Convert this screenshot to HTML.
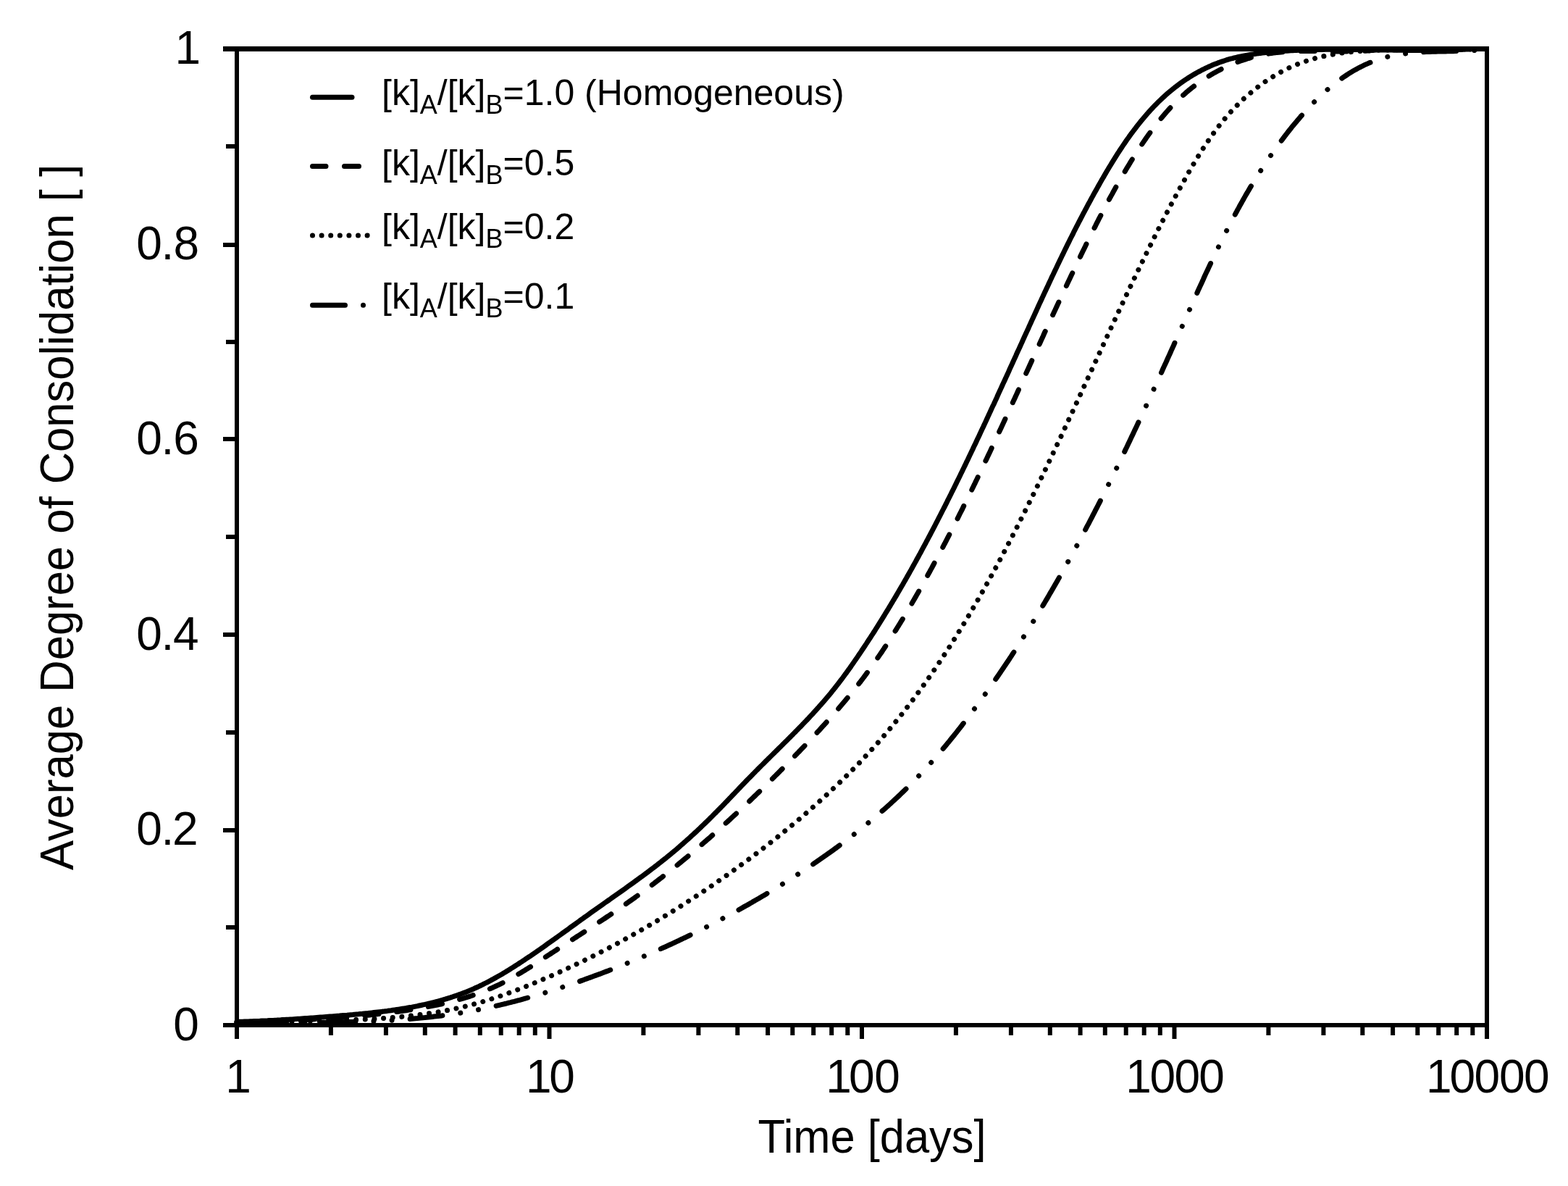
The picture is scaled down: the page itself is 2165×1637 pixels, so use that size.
<!DOCTYPE html>
<html><head><meta charset="utf-8"><title>Average Degree of Consolidation</title><style>html,body{margin:0;padding:0;background:#fff;overflow:hidden;}svg{display:block;}</style></head><body>
<svg width="2165" height="1637" viewBox="0 0 2165 1637">
<rect x="0" y="0" width="2165" height="1637" fill="#fff"/>
<path d="M326.8 1410.4L329.5 1410.3L332.2 1410.3L334.8 1410.2L337.5 1410.1L340.2 1410.0L342.8 1409.9L345.5 1409.8L348.1 1409.7L350.8 1409.6L353.4 1409.5L356.1 1409.4L358.7 1409.3L361.4 1409.1L364.0 1409.0L366.6 1408.9L369.3 1408.8L371.9 1408.6L374.5 1408.5L377.1 1408.4L379.8 1408.2L382.4 1408.1L385.0 1407.9L387.6 1407.8L390.2 1407.6L392.8 1407.5L395.5 1407.3L398.1 1407.2L400.7 1407.0L403.3 1406.9L405.9 1406.7L408.5 1406.5L411.1 1406.3L413.7 1406.2L416.4 1406.0L419.0 1405.8L421.6 1405.6L424.2 1405.5L426.8 1405.3L429.4 1405.1L432.0 1404.9L434.6 1404.7L437.2 1404.5L439.8 1404.3L442.5 1404.1L445.1 1403.9L447.7 1403.7L450.3 1403.5L452.9 1403.3L455.5 1403.1L458.2 1402.9L460.8 1402.7L463.4 1402.5L466.0 1402.3L468.7 1402.1L471.3 1401.8L473.9 1401.6L476.6 1401.4L479.2 1401.2L481.8 1400.9L484.5 1400.7L487.1 1400.5L489.7 1400.2L492.4 1400.0L495.0 1399.8L497.7 1399.5L500.3 1399.3L502.9 1399.0L505.6 1398.7L508.2 1398.5L510.9 1398.2L513.5 1397.9L516.1 1397.6L518.8 1397.3L521.4 1397.0L524.1 1396.7L526.7 1396.4L529.3 1396.1L532.0 1395.7L534.6 1395.4L537.2 1395.0L539.8 1394.7L542.5 1394.3L545.1 1393.9L547.7 1393.5L550.3 1393.1L553.0 1392.7L555.6 1392.3L558.2 1391.9L560.8 1391.5L563.4 1391.0L566.0 1390.5L568.6 1390.1L571.2 1389.6L573.8 1389.1L576.4 1388.6L578.9 1388.0L581.5 1387.5L584.1 1386.9L586.7 1386.4L589.2 1385.8L591.8 1385.2L594.4 1384.6L596.9 1384.0L599.4 1383.3L602.0 1382.7L604.5 1382.0L607.0 1381.3L609.6 1380.6L612.1 1379.9L614.6 1379.2L617.1 1378.4L619.6 1377.6L622.1 1376.9L624.6 1376.0L627.1 1375.2L629.5 1374.4L632.0 1373.5L634.4 1372.6L636.9 1371.7L639.3 1370.8L641.8 1369.9L644.2 1368.9L646.6 1367.9L649.0 1366.9L651.4 1365.9L653.8 1364.9L656.2 1363.8L658.6 1362.7L661.0 1361.6L663.3 1360.5L665.7 1359.4L668.0 1358.2L670.3 1357.0L672.7 1355.8L675.0 1354.6L677.3 1353.4L679.6 1352.1L681.9 1350.9L684.2 1349.6L686.5 1348.3L688.8 1347.0L691.1 1345.7L693.3 1344.4L695.6 1343.0L697.9 1341.7L700.1 1340.3L702.4 1338.9L704.6 1337.5L706.8 1336.1L709.1 1334.7L711.3 1333.3L713.5 1331.9L715.7 1330.5L717.9 1329.0L720.1 1327.6L722.3 1326.1L724.5 1324.7L726.7 1323.2L728.9 1321.7L731.1 1320.3L733.3 1318.8L735.4 1317.3L737.6 1315.8L739.8 1314.3L741.9 1312.8L744.1 1311.3L746.3 1309.8L748.4 1308.3L750.6 1306.8L752.7 1305.3L754.9 1303.7L757.0 1302.2L759.2 1300.7L761.3 1299.2L763.4 1297.6L765.6 1296.1L767.7 1294.6L769.9 1293.0L772.0 1291.5L774.1 1290.0L776.3 1288.4L778.4 1286.9L780.5 1285.4L782.7 1283.8L784.8 1282.3L786.9 1280.7L789.0 1279.2L791.2 1277.6L793.3 1276.1L795.4 1274.6L797.6 1273.0L799.7 1271.5L801.8 1269.9L804.0 1268.4L806.1 1266.9L808.2 1265.3L810.4 1263.8L812.5 1262.3L814.7 1260.7L816.8 1259.2L818.9 1257.7L821.1 1256.2L823.2 1254.6L825.4 1253.1L827.5 1251.6L829.7 1250.1L831.8 1248.6L834.0 1247.0L836.1 1245.5L838.3 1244.0L840.5 1242.5L842.6 1241.0L844.8 1239.4L846.9 1237.9L849.1 1236.4L851.2 1234.9L853.4 1233.4L855.5 1231.9L857.7 1230.3L859.8 1228.8L862.0 1227.3L864.1 1225.8L866.2 1224.2L868.4 1222.7L870.5 1221.2L872.7 1219.6L874.8 1218.1L876.9 1216.5L879.1 1215.0L881.2 1213.4L883.3 1211.9L885.4 1210.3L887.6 1208.8L889.7 1207.2L891.8 1205.6L893.9 1204.1L896.0 1202.5L898.1 1200.9L900.2 1199.3L902.3 1197.7L904.4 1196.1L906.5 1194.5L908.5 1192.9L910.6 1191.3L912.7 1189.7L914.7 1188.0L916.8 1186.4L918.9 1184.8L920.9 1183.1L922.9 1181.5L925.0 1179.8L927.0 1178.1L929.0 1176.4L931.0 1174.8L933.1 1173.1L935.1 1171.4L937.1 1169.7L939.0 1167.9L941.0 1166.2L943.0 1164.5L945.0 1162.7L946.9 1161.0L948.9 1159.2L950.9 1157.5L952.8 1155.7L954.7 1153.9L956.7 1152.2L958.6 1150.4L960.5 1148.6L962.5 1146.8L964.4 1145.0L966.3 1143.2L968.2 1141.4L970.1 1139.5L972.0 1137.7L973.9 1135.9L975.8 1134.1L977.7 1132.2L979.5 1130.4L981.4 1128.5L983.3 1126.7L985.1 1124.8L987.0 1122.9L988.9 1121.1L990.7 1119.2L992.6 1117.3L994.4 1115.5L996.2 1113.6L998.1 1111.7L999.9 1109.8L1001.7 1107.9L1003.6 1106.0L1005.4 1104.1L1007.2 1102.2L1009.0 1100.3L1010.8 1098.4L1012.6 1096.5L1014.5 1094.6L1016.3 1092.7L1018.1 1090.8L1019.9 1088.9L1021.7 1087.0L1023.5 1085.1L1025.3 1083.2L1027.2 1081.3L1029.0 1079.4L1030.8 1077.5L1032.6 1075.6L1034.5 1073.7L1036.3 1071.9L1038.2 1070.0L1040.0 1068.1L1041.9 1066.2L1043.7 1064.4L1045.6 1062.5L1047.4 1060.6L1049.3 1058.8L1051.2 1056.9L1053.0 1055.1L1054.9 1053.2L1056.8 1051.3L1058.6 1049.5L1060.5 1047.6L1062.4 1045.8L1064.3 1043.9L1066.1 1042.1L1068.0 1040.2L1069.9 1038.4L1071.8 1036.5L1073.6 1034.7L1075.5 1032.8L1077.4 1031.0L1079.3 1029.1L1081.1 1027.3L1083.0 1025.4L1084.9 1023.5L1086.8 1021.7L1088.6 1019.8L1090.5 1018.0L1092.3 1016.1L1094.2 1014.2L1096.0 1012.4L1097.9 1010.5L1099.7 1008.6L1101.6 1006.7L1103.4 1004.8L1105.3 1003.0L1107.1 1001.1L1108.9 999.2L1110.7 997.3L1112.6 995.4L1114.4 993.5L1116.2 991.6L1118.0 989.6L1119.8 987.7L1121.6 985.8L1123.3 983.9L1125.1 981.9L1126.9 980.0L1128.6 978.0L1130.4 976.1L1132.1 974.1L1133.9 972.1L1135.6 970.2L1137.3 968.2L1139.0 966.2L1140.7 964.2L1142.4 962.2L1144.1 960.2L1145.8 958.2L1147.5 956.2L1149.1 954.1L1150.8 952.1L1152.4 950.0L1154.0 948.0L1155.6 945.9L1157.3 943.8L1158.9 941.7L1160.4 939.7L1162.0 937.6L1163.6 935.5L1165.2 933.3L1166.7 931.2L1168.3 929.1L1169.8 927.0L1171.3 924.9L1172.9 922.7L1174.4 920.6L1175.9 918.4L1177.4 916.3L1178.9 914.1L1180.4 911.9L1181.9 909.8L1183.4 907.6L1184.9 905.4L1186.3 903.3L1187.8 901.1L1189.3 898.9L1190.7 896.7L1192.2 894.5L1193.7 892.3L1195.1 890.1L1196.6 887.9L1198.0 885.7L1199.4 883.5L1200.9 881.3L1202.3 879.1L1203.7 876.9L1205.2 874.7L1206.6 872.5L1208.0 870.3L1209.4 868.0L1210.8 865.8L1212.2 863.6L1213.6 861.4L1215.0 859.1L1216.4 856.9L1217.8 854.7L1219.2 852.4L1220.6 850.2L1221.9 847.9L1223.3 845.7L1224.7 843.4L1226.1 841.2L1227.4 838.9L1228.8 836.7L1230.1 834.4L1231.5 832.2L1232.8 829.9L1234.2 827.7L1235.5 825.4L1236.9 823.1L1238.2 820.9L1239.5 818.6L1240.9 816.3L1242.2 814.0L1243.5 811.8L1244.8 809.5L1246.2 807.2L1247.5 804.9L1248.8 802.6L1250.1 800.4L1251.4 798.1L1252.7 795.8L1254.0 793.5L1255.3 791.2L1256.6 788.9L1257.9 786.6L1259.2 784.3L1260.4 782.0L1261.7 779.7L1263.0 777.4L1264.3 775.1L1265.5 772.8L1266.8 770.5L1268.1 768.2L1269.3 765.9L1270.6 763.6L1271.8 761.3L1273.1 758.9L1274.3 756.6L1275.6 754.3L1276.8 752.0L1278.1 749.7L1279.3 747.3L1280.6 745.0L1281.8 742.7L1283.0 740.4L1284.3 738.0L1285.5 735.7L1286.7 733.4L1287.9 731.1L1289.2 728.7L1290.4 726.4L1291.6 724.0L1292.8 721.7L1294.0 719.4L1295.2 717.0L1296.4 714.7L1297.6 712.4L1298.8 710.0L1300.0 707.7L1301.2 705.3L1302.4 703.0L1303.6 700.6L1304.8 698.3L1306.0 695.9L1307.2 693.6L1308.3 691.2L1309.5 688.9L1310.7 686.5L1311.9 684.2L1313.1 681.8L1314.2 679.4L1315.4 677.1L1316.6 674.7L1317.7 672.4L1318.9 670.0L1320.1 667.6L1321.2 665.3L1322.4 662.9L1323.6 660.5L1324.7 658.2L1325.9 655.8L1327.0 653.4L1328.2 651.1L1329.3 648.7L1330.5 646.3L1331.6 644.0L1332.8 641.6L1333.9 639.2L1335.0 636.8L1336.2 634.5L1337.3 632.1L1338.4 629.7L1339.6 627.3L1340.7 625.0L1341.8 622.6L1343.0 620.2L1344.1 617.8L1345.2 615.4L1346.4 613.1L1347.5 610.7L1348.6 608.3L1349.7 605.9L1350.9 603.5L1352.0 601.2L1353.1 598.8L1354.2 596.4L1355.3 594.0L1356.4 591.6L1357.6 589.2L1358.7 586.8L1359.8 584.5L1360.9 582.1L1362.0 579.7L1363.1 577.3L1364.2 574.9L1365.3 572.5L1366.4 570.1L1367.5 567.7L1368.6 565.3L1369.7 562.9L1370.8 560.6L1372.0 558.2L1373.1 555.8L1374.2 553.4L1375.3 551.0L1376.4 548.6L1377.4 546.2L1378.5 543.8L1379.6 541.4L1380.7 539.0L1381.8 536.6L1382.9 534.2L1384.0 531.8L1385.1 529.4L1386.2 527.1L1387.3 524.7L1388.4 522.3L1389.5 519.9L1390.6 517.5L1391.7 515.1L1392.8 512.7L1393.8 510.3L1394.9 507.9L1396.0 505.5L1397.1 503.1L1398.2 500.7L1399.3 498.3L1400.4 495.9L1401.5 493.5L1402.6 491.1L1403.6 488.7L1404.7 486.3L1405.8 484.0L1406.9 481.6L1408.0 479.2L1409.1 476.8L1410.2 474.4L1411.3 472.0L1412.3 469.6L1413.4 467.2L1414.5 464.8L1415.6 462.4L1416.7 460.0L1417.8 457.6L1418.9 455.2L1420.0 452.9L1421.0 450.5L1422.1 448.1L1423.2 445.7L1424.3 443.3L1425.4 440.9L1426.5 438.5L1427.6 436.1L1428.7 433.7L1429.8 431.3L1430.9 429.0L1431.9 426.6L1433.0 424.2L1434.1 421.8L1435.2 419.4L1436.3 417.0L1437.4 414.7L1438.5 412.3L1439.6 409.9L1440.7 407.5L1441.8 405.1L1442.9 402.7L1444.0 400.4L1445.1 398.0L1446.3 395.6L1447.4 393.2L1448.5 390.8L1449.6 388.5L1450.7 386.1L1451.8 383.7L1452.9 381.3L1454.1 379.0L1455.2 376.6L1456.3 374.2L1457.4 371.9L1458.6 369.5L1459.7 367.1L1460.8 364.8L1462.0 362.4L1463.1 360.0L1464.2 357.7L1465.4 355.3L1466.5 352.9L1467.7 350.6L1468.8 348.2L1470.0 345.8L1471.1 343.5L1472.3 341.1L1473.4 338.8L1474.6 336.4L1475.8 334.1L1476.9 331.7L1478.1 329.3L1479.3 327.0L1480.5 324.6L1481.7 322.3L1482.8 319.9L1484.0 317.6L1485.2 315.2L1486.4 312.9L1487.6 310.6L1488.8 308.2L1490.0 305.9L1491.3 303.5L1492.5 301.2L1493.7 298.9L1494.9 296.5L1496.1 294.2L1497.4 291.9L1498.6 289.5L1499.9 287.2L1501.1 284.9L1502.3 282.5L1503.6 280.2L1504.9 277.9L1506.1 275.6L1507.4 273.2L1508.7 270.9L1509.9 268.6L1511.2 266.3L1512.5 264.0L1513.8 261.7L1515.1 259.4L1516.4 257.0L1517.7 254.7L1519.0 252.4L1520.3 250.1L1521.6 247.8L1523.0 245.5L1524.3 243.2L1525.6 240.9L1527.0 238.6L1528.3 236.3L1529.7 234.0L1531.0 231.8L1532.4 229.5L1533.8 227.2L1535.2 224.9L1536.6 222.7L1538.0 220.4L1539.4 218.2L1540.8 215.9L1542.2 213.7L1543.6 211.4L1545.1 209.2L1546.5 207.0L1548.0 204.8L1549.4 202.6L1550.9 200.4L1552.4 198.2L1553.9 196.0L1555.4 193.8L1556.9 191.6L1558.5 189.5L1560.0 187.3L1561.5 185.2L1563.1 183.1L1564.7 181.0L1566.3 178.9L1567.9 176.8L1569.5 174.7L1571.1 172.6L1572.7 170.6L1574.4 168.5L1576.0 166.5L1577.7 164.5L1579.4 162.5L1581.1 160.5L1582.8 158.5L1584.5 156.5L1586.2 154.6L1588.0 152.6L1589.8 150.7L1591.5 148.8L1593.3 146.9L1595.2 145.0L1597.0 143.2L1598.8 141.3L1600.7 139.5L1602.6 137.7L1604.5 135.9L1606.4 134.2L1608.3 132.4L1610.2 130.7L1612.2 128.9L1614.2 127.2L1616.2 125.6L1618.2 123.9L1620.2 122.3L1622.2 120.6L1624.3 119.1L1626.4 117.5L1628.5 115.9L1630.6 114.4L1632.7 112.9L1634.9 111.4L1637.1 109.9L1639.3 108.5L1641.5 107.0L1643.7 105.6L1646.0 104.3L1648.2 102.9L1650.5 101.6L1652.8 100.3L1655.1 99.0L1657.5 97.8L1659.8 96.5L1662.2 95.4L1664.6 94.2L1666.9 93.1L1669.3 92.0L1671.8 90.9L1674.2 89.8L1676.6 88.8L1679.1 87.9L1681.5 86.9L1684.0 86.0L1686.5 85.1L1689.0 84.3L1691.5 83.5L1694.0 82.7L1696.5 81.9L1699.0 81.2L1701.6 80.6L1704.1 79.9L1706.7 79.3L1709.2 78.7L1711.8 78.1L1714.4 77.6L1716.9 77.1L1719.5 76.6L1722.1 76.1L1724.7 75.7L1727.3 75.3L1729.9 74.9L1732.5 74.5L1735.1 74.1L1737.7 73.8L1740.3 73.4L1742.9 73.1L1745.6 72.8L1748.2 72.5L1750.8 72.3L1753.4 72.0L1756.1 71.8L1758.7 71.5L1761.3 71.3L1763.9 71.1L1766.6 70.9L1769.2 70.7L1771.8 70.5L1774.4 70.3L1777.1 70.2L1779.7 70.0L1782.3 69.8L1784.9 69.7L1787.6 69.6L1790.2 69.4L1792.8 69.3L1795.5 69.2L1798.1 69.1L1800.7 69.0L1803.4 68.9L1806.0 68.8L1808.6 68.7L1811.2 68.7L1813.9 68.6L1816.5 68.5L1819.1 68.5L1821.8 68.4L1824.4 68.4L1827.0 68.4L1829.7 68.3L1832.3 68.3L1834.9 68.3L1837.6 68.3L1840.2 68.2L1842.8 68.2L1845.5 68.2L1848.1 68.2L1850.7 68.2L1853.4 68.2L1856.0 68.3L1858.6 68.3L1861.3 68.3L1863.9 68.3L1866.6 68.3L1869.2 68.4L1871.8 68.4L1874.5 68.4L1877.1 68.4L1879.7 68.5L1882.4 68.5L1885.0 68.5L1887.6 68.6L1890.3 68.6L1892.9 68.7L1895.5 68.7L1898.2 68.8L1900.8 68.8L1903.4 68.8L1906.1 68.9L1908.7 68.9L1911.3 69.0L1914.0 69.0L1916.6 69.0L1919.3 69.1L1921.9 69.1L1924.5 69.2L1927.2 69.2L1929.8 69.2L1932.4 69.3L1935.1 69.3L1937.7 69.3L1940.3 69.4L1943.0 69.4L1945.6 69.4L1948.2 69.4L1950.9 69.5L1953.5 69.5L1956.1 69.5L1958.8 69.5L1961.4 69.5L1964.0 69.5L1966.7 69.5L1969.3 69.5L1971.9 69.5L1974.6 69.5L1977.2 69.4L1979.8 69.4L1982.4 69.4L1985.1 69.3L1987.7 69.3L1990.3 69.3L1993.0 69.2L1995.6 69.1L1998.2 69.1L2000.9 69.0L2003.5 68.9L2006.1 68.8L2008.7 68.8L2011.4 68.7L2014.0 68.6L2016.6 68.4L2019.2 68.3L2021.9 68.2L2024.5 68.1L2027.1 67.9L2029.7 67.8L2032.4 67.6L2035.0 67.5" fill="none" stroke="#000" stroke-width="7" stroke-linejoin="round" stroke-linecap="round"/>
<path d="M326.9 1411.2L329.6 1411.1L332.3 1411.0L334.9 1411.0L337.6 1410.9L340.2 1410.8L342.9 1410.7L345.5 1410.6L348.2 1410.5L350.8 1410.4L353.5 1410.3L356.1 1410.2L358.8 1410.1L361.4 1410.1L364.0 1410.0L366.7 1409.9L369.3 1409.8L371.9 1409.7L374.6 1409.6L377.2 1409.5L379.9 1409.4L382.5 1409.3L385.1 1409.2L387.7 1409.1L390.4 1409.0L393.0 1408.9L395.6 1408.7L398.3 1408.6L400.9 1408.5L403.5 1408.4L406.1 1408.3L408.8 1408.2L411.4 1408.0L414.0 1407.9L416.6 1407.8L419.2 1407.7L421.9 1407.5L424.5 1407.4L427.1 1407.2L429.7 1407.1L432.3 1407.0L434.9 1406.8L437.6 1406.7L440.2 1406.5L442.8 1406.4L445.4 1406.2L448.0 1406.0L450.6 1405.9L453.3 1405.7L455.9 1405.5L458.5 1405.3L461.1 1405.2L463.7 1405.0L466.3 1404.8L468.9 1404.6L471.5 1404.4L474.2 1404.2L476.8 1404.0L479.4 1403.8L482.0 1403.6L484.6 1403.4L487.2 1403.1L489.8 1402.9L492.4 1402.7L495.1 1402.4L497.7 1402.2L500.3 1401.9L502.9 1401.7L505.5 1401.4L508.1 1401.2L510.7 1400.9L513.4 1400.6L516.0 1400.4L518.6 1400.1L521.2 1399.8L523.8 1399.5L526.4 1399.2L529.1 1398.9L531.7 1398.6L534.3 1398.2L536.9 1397.9L539.5 1397.6L542.2 1397.3L544.8 1396.9L547.4 1396.6L550.0 1396.2L552.6 1395.8L555.3 1395.5L557.9 1395.1L560.5 1394.7L563.1 1394.3L565.8 1393.9L568.4 1393.5L571.0 1393.1L573.6 1392.7L576.3 1392.2L578.9 1391.8L581.5 1391.4L584.1 1390.9L586.7 1390.4L589.3 1389.9L591.9 1389.4L594.6 1388.9L597.2 1388.4L599.8 1387.9L602.4 1387.4L605.0 1386.8L607.5 1386.2L610.1 1385.7L612.7 1385.1L615.3 1384.5L617.9 1383.9L620.4 1383.2L623.0 1382.6L625.6 1381.9L628.1 1381.2L630.7 1380.6L633.2 1379.8L635.8 1379.1L638.3 1378.4L640.8 1377.6L643.3 1376.9L645.8 1376.1L648.3 1375.3L650.8 1374.5L653.3 1373.6L655.8 1372.8L658.3 1371.9L660.7 1371.0L663.2 1370.1L665.7 1369.2L668.1 1368.2L670.5 1367.3L673.0 1366.3L675.4 1365.3L677.8 1364.2L680.2 1363.2L682.5 1362.1L684.9 1361.0L687.3 1359.9L689.6 1358.8L692.0 1357.6L694.3 1356.5L696.6 1355.3L699.0 1354.0L701.3 1352.8L703.6 1351.6L705.9 1350.3L708.1 1349.0L710.4 1347.7L712.7 1346.4L715.0 1345.1L717.2 1343.8L719.5 1342.4L721.7 1341.1L724.0 1339.7L726.2 1338.3L728.4 1337.0L730.7 1335.6L732.9 1334.2L735.1 1332.8L737.3 1331.3L739.5 1329.9L741.8 1328.5L744.0 1327.1L746.2 1325.6L748.4 1324.2L750.6 1322.7L752.8 1321.3L755.0 1319.8L757.2 1318.4L759.4 1317.0L761.6 1315.5L763.8 1314.1L766.1 1312.6L768.3 1311.2L770.5 1309.7L772.7 1308.3L774.9 1306.9L777.1 1305.4L779.3 1304.0L781.5 1302.6L783.8 1301.1L786.0 1299.7L788.2 1298.3L790.4 1296.8L792.6 1295.4L794.8 1294.0L797.0 1292.5L799.2 1291.1L801.5 1289.7L803.7 1288.2L805.9 1286.8L808.1 1285.3L810.3 1283.9L812.5 1282.5L814.7 1281.0L816.9 1279.6L819.1 1278.1L821.3 1276.7L823.5 1275.2L825.7 1273.8L827.9 1272.3L830.1 1270.9L832.3 1269.4L834.5 1268.0L836.7 1266.5L838.9 1265.0L841.1 1263.6L843.3 1262.1L845.4 1260.6L847.6 1259.1L849.8 1257.7L852.0 1256.2L854.1 1254.7L856.3 1253.2L858.5 1251.7L860.6 1250.2L862.8 1248.7L864.9 1247.2L867.1 1245.7L869.2 1244.2L871.4 1242.6L873.5 1241.1L875.7 1239.6L877.8 1238.0L879.9 1236.5L882.1 1235.0L884.2 1233.4L886.3 1231.8L888.4 1230.3L890.5 1228.7L892.7 1227.2L894.8 1225.6L896.9 1224.0L899.0 1222.4L901.1 1220.8L903.2 1219.2L905.2 1217.6L907.3 1216.0L909.4 1214.4L911.5 1212.8L913.6 1211.2L915.6 1209.6L917.7 1208.0L919.8 1206.3L921.8 1204.7L923.9 1203.1L926.0 1201.4L928.0 1199.8L930.1 1198.2L932.1 1196.5L934.2 1194.8L936.2 1193.2L938.2 1191.5L940.3 1189.9L942.3 1188.2L944.3 1186.5L946.4 1184.8L948.4 1183.2L950.4 1181.5L952.4 1179.8L954.4 1178.1L956.4 1176.4L958.5 1174.7L960.5 1173.0L962.5 1171.3L964.5 1169.6L966.5 1167.8L968.5 1166.1L970.4 1164.4L972.4 1162.7L974.4 1161.0L976.4 1159.2L978.4 1157.5L980.4 1155.8L982.3 1154.0L984.3 1152.3L986.3 1150.5L988.2 1148.8L990.2 1147.0L992.2 1145.3L994.1 1143.5L996.1 1141.7L998.0 1140.0L1000.0 1138.2L1001.9 1136.4L1003.9 1134.7L1005.8 1132.9L1007.8 1131.1L1009.7 1129.3L1011.6 1127.5L1013.6 1125.7L1015.5 1124.0L1017.4 1122.2L1019.4 1120.4L1021.3 1118.6L1023.2 1116.8L1025.1 1115.0L1027.0 1113.2L1029.0 1111.3L1030.9 1109.5L1032.8 1107.7L1034.7 1105.9L1036.6 1104.1L1038.5 1102.3L1040.4 1100.4L1042.3 1098.6L1044.2 1096.8L1046.1 1094.9L1048.0 1093.1L1049.9 1091.3L1051.8 1089.4L1053.6 1087.6L1055.5 1085.7L1057.4 1083.9L1059.3 1082.1L1061.2 1080.2L1063.0 1078.3L1064.9 1076.5L1066.8 1074.6L1068.6 1072.8L1070.5 1070.9L1072.4 1069.0L1074.2 1067.2L1076.1 1065.3L1077.9 1063.4L1079.8 1061.6L1081.6 1059.7L1083.5 1057.8L1085.3 1055.9L1087.2 1054.0L1089.0 1052.2L1090.9 1050.3L1092.7 1048.4L1094.5 1046.5L1096.4 1044.6L1098.2 1042.7L1100.0 1040.8L1101.9 1038.9L1103.7 1037.0L1105.5 1035.1L1107.3 1033.2L1109.2 1031.3L1111.0 1029.4L1112.8 1027.5L1114.6 1025.6L1116.4 1023.7L1118.2 1021.8L1120.0 1019.8L1121.8 1017.9L1123.6 1016.0L1125.4 1014.1L1127.2 1012.1L1129.0 1010.2L1130.8 1008.3L1132.6 1006.3L1134.3 1004.4L1136.1 1002.4L1137.9 1000.5L1139.6 998.6L1141.4 996.6L1143.2 994.6L1144.9 992.7L1146.7 990.7L1148.4 988.7L1150.1 986.8L1151.9 984.8L1153.6 982.8L1155.3 980.8L1157.1 978.8L1158.8 976.8L1160.5 974.8L1162.2 972.8L1163.9 970.8L1165.6 968.8L1167.3 966.8L1168.9 964.8L1170.6 962.8L1172.3 960.7L1173.9 958.7L1175.6 956.7L1177.2 954.6L1178.9 952.6L1180.5 950.5L1182.1 948.5L1183.8 946.4L1185.4 944.3L1187.0 942.2L1188.6 940.2L1190.2 938.1L1191.8 936.0L1193.4 933.9L1194.9 931.8L1196.5 929.7L1198.0 927.5L1199.6 925.4L1201.1 923.3L1202.7 921.2L1204.2 919.0L1205.7 916.9L1207.2 914.7L1208.7 912.6L1210.2 910.4L1211.7 908.3L1213.2 906.1L1214.7 903.9L1216.2 901.7L1217.7 899.6L1219.1 897.4L1220.6 895.2L1222.0 893.0L1223.5 890.8L1224.9 888.6L1226.4 886.4L1227.8 884.2L1229.2 881.9L1230.6 879.7L1232.0 877.5L1233.4 875.3L1234.8 873.0L1236.2 870.8L1237.6 868.6L1239.0 866.3L1240.4 864.1L1241.8 861.8L1243.2 859.6L1244.5 857.3L1245.9 855.1L1247.3 852.8L1248.6 850.6L1250.0 848.3L1251.3 846.0L1252.7 843.8L1254.0 841.5L1255.3 839.2L1256.7 836.9L1258.0 834.7L1259.3 832.4L1260.6 830.1L1262.0 827.8L1263.3 825.5L1264.6 823.2L1265.9 820.9L1267.2 818.7L1268.5 816.4L1269.8 814.1L1271.1 811.8L1272.4 809.5L1273.7 807.2L1274.9 804.9L1276.2 802.6L1277.5 800.3L1278.8 798.0L1280.1 795.7L1281.3 793.3L1282.6 791.0L1283.9 788.7L1285.1 786.4L1286.4 784.1L1287.6 781.8L1288.9 779.5L1290.1 777.1L1291.4 774.8L1292.6 772.5L1293.9 770.2L1295.1 767.9L1296.4 765.5L1297.6 763.2L1298.8 760.9L1300.1 758.5L1301.3 756.2L1302.5 753.9L1303.7 751.5L1305.0 749.2L1306.2 746.9L1307.4 744.5L1308.6 742.2L1309.8 739.9L1311.0 737.5L1312.2 735.2L1313.4 732.8L1314.6 730.5L1315.8 728.1L1317.0 725.8L1318.2 723.4L1319.4 721.1L1320.6 718.7L1321.8 716.4L1323.0 714.0L1324.1 711.7L1325.3 709.3L1326.5 707.0L1327.7 704.6L1328.9 702.3L1330.0 699.9L1331.2 697.5L1332.4 695.2L1333.5 692.8L1334.7 690.5L1335.9 688.1L1337.0 685.7L1338.2 683.4L1339.3 681.0L1340.5 678.6L1341.7 676.3L1342.8 673.9L1344.0 671.5L1345.1 669.1L1346.3 666.8L1347.4 664.4L1348.6 662.0L1349.7 659.7L1350.8 657.3L1352.0 654.9L1353.1 652.5L1354.3 650.2L1355.4 647.8L1356.5 645.4L1357.7 643.0L1358.8 640.6L1359.9 638.3L1361.0 635.9L1362.2 633.5L1363.3 631.1L1364.4 628.7L1365.5 626.4L1366.7 624.0L1367.8 621.6L1368.9 619.2L1370.0 616.8L1371.1 614.4L1372.3 612.0L1373.4 609.7L1374.5 607.3L1375.6 604.9L1376.7 602.5L1377.8 600.1L1378.9 597.7L1380.0 595.3L1381.2 592.9L1382.3 590.5L1383.4 588.1L1384.5 585.8L1385.6 583.4L1386.7 581.0L1387.8 578.6L1388.9 576.2L1390.0 573.8L1391.1 571.4L1392.2 569.0L1393.3 566.6L1394.4 564.2L1395.5 561.8L1396.6 559.4L1397.7 557.0L1398.8 554.6L1399.9 552.2L1401.0 549.9L1402.1 547.5L1403.2 545.1L1404.3 542.7L1405.4 540.3L1406.5 537.9L1407.6 535.5L1408.7 533.1L1409.7 530.7L1410.8 528.3L1411.9 525.9L1413.0 523.5L1414.1 521.1L1415.2 518.7L1416.3 516.3L1417.4 513.9L1418.5 511.5L1419.6 509.1L1420.7 506.7L1421.8 504.3L1422.9 501.9L1424.0 499.5L1425.0 497.1L1426.1 494.8L1427.2 492.4L1428.3 490.0L1429.4 487.6L1430.5 485.2L1431.6 482.8L1432.7 480.4L1433.8 478.0L1434.9 475.6L1436.0 473.2L1437.1 470.8L1438.2 468.4L1439.3 466.0L1440.4 463.6L1441.4 461.2L1442.5 458.8L1443.6 456.5L1444.7 454.1L1445.8 451.7L1446.9 449.3L1448.0 446.9L1449.1 444.5L1450.2 442.1L1451.3 439.7L1452.4 437.3L1453.5 435.0L1454.6 432.6L1455.7 430.2L1456.9 427.8L1458.0 425.4L1459.1 423.0L1460.2 420.6L1461.3 418.3L1462.4 415.9L1463.5 413.5L1464.6 411.1L1465.7 408.7L1466.8 406.3L1467.9 404.0L1469.1 401.6L1470.2 399.2L1471.3 396.8L1472.4 394.5L1473.5 392.1L1474.6 389.7L1475.8 387.3L1476.9 385.0L1478.0 382.6L1479.1 380.2L1480.3 377.8L1481.4 375.5L1482.5 373.1L1483.6 370.7L1484.8 368.4L1485.9 366.0L1487.0 363.6L1488.2 361.3L1489.3 358.9L1490.4 356.5L1491.6 354.2L1492.7 351.8L1493.9 349.4L1495.0 347.1L1496.2 344.7L1497.3 342.4L1498.5 340.0L1499.6 337.6L1500.8 335.3L1501.9 332.9L1503.1 330.6L1504.2 328.2L1505.4 325.9L1506.6 323.5L1507.7 321.2L1508.9 318.8L1510.1 316.5L1511.3 314.1L1512.5 311.8L1513.6 309.5L1514.8 307.1L1516.0 304.8L1517.2 302.4L1518.4 300.1L1519.6 297.8L1520.8 295.4L1522.0 293.1L1523.3 290.8L1524.5 288.5L1525.7 286.1L1526.9 283.8L1528.2 281.5L1529.4 279.2L1530.6 276.8L1531.9 274.5L1533.1 272.2L1534.4 269.9L1535.7 267.6L1536.9 265.3L1538.2 263.0L1539.5 260.6L1540.8 258.3L1542.1 256.0L1543.4 253.7L1544.7 251.4L1546.0 249.1L1547.3 246.8L1548.6 244.6L1550.0 242.3L1551.3 240.0L1552.6 237.7L1554.0 235.4L1555.3 233.1L1556.7 230.8L1558.1 228.6L1559.5 226.3L1560.8 224.0L1562.2 221.7L1563.6 219.5L1565.0 217.2L1566.5 215.0L1567.9 212.7L1569.3 210.4L1570.8 208.2L1572.2 206.0L1573.7 203.7L1575.1 201.5L1576.6 199.3L1578.1 197.1L1579.6 194.9L1581.1 192.7L1582.6 190.5L1584.2 188.3L1585.7 186.1L1587.3 184.0L1588.8 181.8L1590.4 179.7L1592.0 177.6L1593.6 175.4L1595.2 173.3L1596.8 171.3L1598.5 169.2L1600.1 167.1L1601.8 165.0L1603.5 163.0L1605.2 161.0L1606.9 159.0L1608.6 157.0L1610.3 155.0L1612.1 153.0L1613.8 151.1L1615.6 149.1L1617.4 147.2L1619.2 145.3L1621.1 143.4L1622.9 141.6L1624.8 139.7L1626.6 137.9L1628.5 136.1L1630.4 134.3L1632.4 132.5L1634.3 130.8L1636.3 129.1L1638.2 127.3L1640.2 125.7L1642.2 124.0L1644.3 122.4L1646.3 120.7L1648.4 119.1L1650.5 117.6L1652.6 116.0L1654.7 114.5L1656.8 113.0L1659.0 111.5L1661.1 110.1L1663.3 108.6L1665.5 107.2L1667.7 105.8L1670.0 104.5L1672.2 103.1L1674.5 101.8L1676.7 100.5L1679.0 99.3L1681.3 98.0L1683.6 96.8L1686.0 95.6L1688.3 94.5L1690.6 93.3L1693.0 92.2L1695.4 91.2L1697.8 90.1L1700.2 89.1L1702.6 88.1L1705.0 87.1L1707.5 86.1L1709.9 85.2L1712.4 84.3L1714.8 83.5L1717.3 82.6L1719.8 81.8L1722.3 81.0L1724.8 80.3L1727.3 79.5L1729.9 78.9L1732.4 78.2L1734.9 77.5L1737.5 76.9L1740.1 76.3L1742.6 75.8L1745.2 75.3L1747.8 74.8L1750.4 74.3L1753.0 73.9L1755.6 73.5L1758.2 73.1L1760.8 72.8L1763.4 72.4L1766.1 72.2L1768.7 71.9L1771.3 71.7L1774.0 71.4L1776.6 71.3L1779.3 71.1L1781.9 70.9L1784.6 70.8L1787.2 70.7L1789.9 70.6L1792.6 70.5L1795.2 70.5L1797.9 70.4L1800.6 70.4L1803.2 70.4L1805.9 70.4L1808.6 70.4L1811.3 70.4L1814.0 70.4L1816.6 70.4L1819.3 70.5L1822.0 70.5L1824.7 70.6L1827.3 70.6L1830.0 70.6L1832.7 70.7L1835.4 70.7L1838.0 70.8L1840.7 70.8L1843.4 70.9L1846.0 70.9L1848.7 70.9L1851.3 71.0L1854.0 71.0L1856.6 71.0L1859.3 71.0L1861.9 71.0L1864.6 71.0L1867.2 70.9L1869.8 70.9L1872.4 70.8L1875.0 70.7L1877.7 70.6L1880.3 70.5L1882.8 70.4L1885.4 70.2L1888.0 70.0L1890.6 69.9L1893.1 69.6L1895.7 69.4L1898.3 69.1L1900.8 68.8L1903.3 68.5L1905.8 68.1L1908.4 67.8L1910.9 67.5L1913.4 67.5L1915.9 67.5L1918.4 67.5L1920.8 67.5L1923.3 67.5L1925.8 67.5L1928.3 67.5L1930.8 67.5L1933.3 67.5L1935.7 67.5L1938.2 67.5L1940.7 67.5L1943.2 67.5L1945.7 67.5L1948.2 67.5L1950.7 67.5L1953.2 67.5L1955.7 67.5L1958.3 67.5L1960.8 67.5L1963.3 67.5L1965.9 67.5L1968.5 67.5L1971.0 67.5L1973.6 67.5L1976.2 67.5L1978.8 67.5L1981.4 67.5L1984.1 67.5L1986.7 67.5L1989.4 67.5L1992.1 67.5L1994.8 67.5L1997.5 67.5L2000.3 67.5L2003.0 67.5L2005.8 67.5L2008.6 67.5L2011.5 67.5L2014.3 67.5L2017.2 67.5L2020.1 67.5L2023.0 67.5L2026.0 67.5L2028.9 67.5L2032.0 67.5L2035.0 67.5" fill="none" stroke="#000" stroke-width="7" stroke-linejoin="round" stroke-linecap="round" stroke-dasharray="19.5 24.850" stroke-dashoffset="0.39"/>
<path d="M327.3 1412.7L329.9 1412.5L332.4 1412.3L335.0 1412.2L337.6 1412.1L340.1 1411.9L342.7 1411.8L345.3 1411.7L347.9 1411.5L350.5 1411.4L353.1 1411.3L355.6 1411.2L358.2 1411.1L360.8 1411.0L363.4 1410.9L366.0 1410.8L368.6 1410.7L371.2 1410.6L373.8 1410.5L376.4 1410.4L379.0 1410.4L381.7 1410.3L384.3 1410.2L386.9 1410.1L389.5 1410.1L392.1 1410.0L394.7 1409.9L397.4 1409.9L400.0 1409.8L402.6 1409.8L405.3 1409.7L407.9 1409.7L410.5 1409.6L413.1 1409.5L415.8 1409.5L418.4 1409.4L421.0 1409.4L423.7 1409.3L426.3 1409.3L429.0 1409.2L431.6 1409.2L434.2 1409.1L436.9 1409.1L439.5 1409.0L442.2 1409.0L444.8 1408.9L447.5 1408.8L450.1 1408.8L452.7 1408.7L455.4 1408.7L458.0 1408.6L460.7 1408.5L463.3 1408.4L466.0 1408.4L468.6 1408.3L471.3 1408.2L473.9 1408.1L476.6 1408.1L479.2 1408.0L481.9 1407.9L484.5 1407.8L487.2 1407.7L489.8 1407.6L492.5 1407.5L495.1 1407.4L497.8 1407.3L500.4 1407.1L503.1 1407.0L505.7 1406.9L508.3 1406.8L511.0 1406.6L513.6 1406.5L516.3 1406.3L518.9 1406.2L521.6 1406.0L524.2 1405.8L526.8 1405.7L529.5 1405.5L532.1 1405.3L534.7 1405.1L537.4 1404.9L540.0 1404.7L542.6 1404.5L545.3 1404.3L547.9 1404.0L550.5 1403.8L553.2 1403.5L555.8 1403.3L558.4 1403.0L561.0 1402.8L563.7 1402.5L566.3 1402.2L568.9 1401.9L571.5 1401.6L574.1 1401.3L576.7 1401.0L579.3 1400.6L581.9 1400.3L584.5 1399.9L587.1 1399.6L589.7 1399.2L592.3 1398.8L594.9 1398.4L597.5 1398.0L600.1 1397.6L602.7 1397.2L605.3 1396.8L607.9 1396.3L610.4 1395.8L613.0 1395.4L615.6 1394.9L618.2 1394.4L620.7 1393.9L623.3 1393.4L625.9 1392.8L628.4 1392.3L631.0 1391.7L633.5 1391.2L636.1 1390.6L638.6 1390.0L641.1 1389.4L643.7 1388.8L646.2 1388.1L648.8 1387.5L651.3 1386.8L653.8 1386.1L656.3 1385.5L658.8 1384.8L661.4 1384.0L663.9 1383.3L666.4 1382.6L668.9 1381.8L671.4 1381.1L673.9 1380.3L676.4 1379.5L678.9 1378.7L681.4 1377.9L683.8 1377.1L686.3 1376.3L688.8 1375.4L691.3 1374.6L693.8 1373.7L696.2 1372.9L698.7 1372.0L701.2 1371.1L703.6 1370.2L706.1 1369.3L708.5 1368.4L711.0 1367.5L713.4 1366.5L715.9 1365.6L718.3 1364.7L720.8 1363.7L723.2 1362.7L725.7 1361.8L728.1 1360.8L730.5 1359.8L733.0 1358.8L735.4 1357.8L737.8 1356.8L740.3 1355.8L742.7 1354.8L745.1 1353.8L747.5 1352.7L749.9 1351.7L752.3 1350.7L754.8 1349.6L757.2 1348.6L759.6 1347.5L762.0 1346.5L764.4 1345.4L766.8 1344.3L769.2 1343.3L771.6 1342.2L774.0 1341.1L776.4 1340.0L778.7 1338.9L781.1 1337.8L783.5 1336.7L785.9 1335.6L788.3 1334.5L790.7 1333.3L793.0 1332.2L795.4 1331.1L797.8 1330.0L800.1 1328.8L802.5 1327.7L804.9 1326.5L807.2 1325.4L809.6 1324.2L812.0 1323.0L814.3 1321.9L816.7 1320.7L819.0 1319.5L821.4 1318.3L823.7 1317.1L826.1 1315.9L828.4 1314.7L830.7 1313.5L833.1 1312.3L835.4 1311.1L837.7 1309.9L840.1 1308.7L842.4 1307.5L844.7 1306.2L847.0 1305.0L849.4 1303.7L851.7 1302.5L854.0 1301.3L856.3 1300.0L858.6 1298.7L860.9 1297.5L863.2 1296.2L865.5 1294.9L867.8 1293.7L870.1 1292.4L872.4 1291.1L874.7 1289.8L877.0 1288.5L879.3 1287.2L881.6 1285.9L883.9 1284.6L886.1 1283.3L888.4 1282.0L890.7 1280.7L893.0 1279.3L895.2 1278.0L897.5 1276.7L899.8 1275.3L902.0 1274.0L904.3 1272.7L906.6 1271.3L908.8 1270.0L911.1 1268.6L913.3 1267.2L915.6 1265.9L917.8 1264.5L920.1 1263.1L922.3 1261.8L924.5 1260.4L926.8 1259.0L929.0 1257.6L931.2 1256.2L933.5 1254.8L935.7 1253.4L937.9 1252.0L940.1 1250.6L942.3 1249.2L944.6 1247.8L946.8 1246.4L949.0 1244.9L951.2 1243.5L953.4 1242.1L955.6 1240.7L957.8 1239.2L960.0 1237.8L962.2 1236.3L964.4 1234.9L966.5 1233.4L968.7 1232.0L970.9 1230.5L973.1 1229.1L975.3 1227.6L977.4 1226.1L979.6 1224.6L981.8 1223.2L984.0 1221.7L986.1 1220.2L988.3 1218.7L990.4 1217.2L992.6 1215.7L994.8 1214.2L996.9 1212.7L999.1 1211.2L1001.2 1209.7L1003.3 1208.2L1005.5 1206.7L1007.6 1205.1L1009.8 1203.6L1011.9 1202.1L1014.0 1200.5L1016.1 1199.0L1018.3 1197.5L1020.4 1195.9L1022.5 1194.4L1024.6 1192.8L1026.7 1191.3L1028.9 1189.7L1031.0 1188.1L1033.1 1186.6L1035.2 1185.0L1037.3 1183.4L1039.4 1181.8L1041.5 1180.3L1043.6 1178.7L1045.7 1177.1L1047.7 1175.5L1049.8 1173.9L1051.9 1172.3L1054.0 1170.7L1056.1 1169.1L1058.2 1167.5L1060.2 1165.8L1062.3 1164.2L1064.4 1162.6L1066.4 1161.0L1068.5 1159.3L1070.5 1157.7L1072.6 1156.1L1074.7 1154.4L1076.7 1152.8L1078.8 1151.1L1080.8 1149.5L1082.8 1147.8L1084.9 1146.1L1086.9 1144.5L1088.9 1142.8L1091.0 1141.1L1093.0 1139.4L1095.0 1137.8L1097.0 1136.1L1099.1 1134.4L1101.1 1132.7L1103.1 1131.0L1105.1 1129.3L1107.1 1127.6L1109.1 1125.9L1111.1 1124.1L1113.1 1122.4L1115.0 1120.7L1117.0 1119.0L1119.0 1117.2L1121.0 1115.5L1122.9 1113.8L1124.9 1112.0L1126.9 1110.3L1128.8 1108.5L1130.8 1106.8L1132.7 1105.0L1134.7 1103.2L1136.6 1101.5L1138.6 1099.7L1140.5 1097.9L1142.4 1096.1L1144.4 1094.3L1146.3 1092.5L1148.2 1090.7L1150.1 1088.9L1152.0 1087.1L1153.9 1085.3L1155.8 1083.5L1157.7 1081.7L1159.6 1079.9L1161.5 1078.0L1163.4 1076.2L1165.3 1074.4L1167.1 1072.5L1169.0 1070.7L1170.9 1068.8L1172.7 1067.0L1174.6 1065.1L1176.4 1063.2L1178.3 1061.4L1180.1 1059.5L1181.9 1057.6L1183.8 1055.7L1185.6 1053.8L1187.4 1052.0L1189.2 1050.1L1191.0 1048.2L1192.8 1046.2L1194.6 1044.3L1196.4 1042.4L1198.2 1040.5L1200.0 1038.6L1201.7 1036.6L1203.5 1034.7L1205.3 1032.8L1207.0 1030.8L1208.8 1028.9L1210.5 1026.9L1212.3 1025.0L1214.0 1023.0L1215.7 1021.0L1217.5 1019.0L1219.2 1017.1L1220.9 1015.1L1222.6 1013.1L1224.3 1011.1L1226.0 1009.1L1227.7 1007.1L1229.4 1005.1L1231.0 1003.1L1232.7 1001.1L1234.4 999.0L1236.0 997.0L1237.7 995.0L1239.3 992.9L1241.0 990.9L1242.6 988.9L1244.3 986.8L1245.9 984.8L1247.5 982.7L1249.1 980.6L1250.7 978.6L1252.3 976.5L1253.9 974.4L1255.5 972.3L1257.1 970.2L1258.7 968.2L1260.3 966.1L1261.9 964.0L1263.4 961.9L1265.0 959.8L1266.5 957.7L1268.1 955.5L1269.6 953.4L1271.2 951.3L1272.7 949.2L1274.3 947.0L1275.8 944.9L1277.3 942.8L1278.8 940.6L1280.3 938.5L1281.9 936.4L1283.4 934.2L1284.9 932.0L1286.3 929.9L1287.8 927.7L1289.3 925.6L1290.8 923.4L1292.3 921.2L1293.8 919.0L1295.2 916.9L1296.7 914.7L1298.1 912.5L1299.6 910.3L1301.0 908.1L1302.5 905.9L1303.9 903.7L1305.4 901.5L1306.8 899.3L1308.2 897.1L1309.6 894.9L1311.1 892.7L1312.5 890.5L1313.9 888.3L1315.3 886.0L1316.7 883.8L1318.1 881.6L1319.5 879.4L1320.9 877.1L1322.3 874.9L1323.6 872.6L1325.0 870.4L1326.4 868.2L1327.8 865.9L1329.1 863.7L1330.5 861.4L1331.9 859.2L1333.2 856.9L1334.6 854.6L1335.9 852.4L1337.3 850.1L1338.6 847.9L1339.9 845.6L1341.3 843.3L1342.6 841.1L1343.9 838.8L1345.3 836.5L1346.6 834.2L1347.9 831.9L1349.2 829.7L1350.5 827.4L1351.8 825.1L1353.1 822.8L1354.4 820.5L1355.7 818.2L1357.0 815.9L1358.3 813.6L1359.6 811.3L1360.9 809.0L1362.2 806.7L1363.4 804.4L1364.7 802.1L1366.0 799.8L1367.3 797.5L1368.5 795.2L1369.8 792.9L1371.0 790.6L1372.3 788.3L1373.6 786.0L1374.8 783.7L1376.1 781.4L1377.3 779.0L1378.6 776.7L1379.8 774.4L1381.0 772.1L1382.3 769.8L1383.5 767.4L1384.7 765.1L1386.0 762.8L1387.2 760.5L1388.4 758.1L1389.6 755.8L1390.9 753.5L1392.1 751.1L1393.3 748.8L1394.5 746.5L1395.7 744.1L1396.9 741.8L1398.1 739.5L1399.3 737.1L1400.5 734.8L1401.7 732.5L1402.9 730.1L1404.1 727.8L1405.3 725.4L1406.5 723.1L1407.7 720.7L1408.9 718.4L1410.0 716.1L1411.2 713.7L1412.4 711.4L1413.6 709.0L1414.8 706.7L1415.9 704.3L1417.1 702.0L1418.3 699.6L1419.4 697.3L1420.6 694.9L1421.8 692.5L1422.9 690.2L1424.1 687.8L1425.2 685.5L1426.4 683.1L1427.6 680.8L1428.7 678.4L1429.9 676.0L1431.0 673.7L1432.2 671.3L1433.3 669.0L1434.4 666.6L1435.6 664.2L1436.7 661.9L1437.9 659.5L1439.0 657.1L1440.1 654.8L1441.3 652.4L1442.4 650.0L1443.6 647.7L1444.7 645.3L1445.8 642.9L1446.9 640.6L1448.1 638.2L1449.2 635.8L1450.3 633.4L1451.5 631.1L1452.6 628.7L1453.7 626.3L1454.8 623.9L1455.9 621.6L1457.1 619.2L1458.2 616.8L1459.3 614.4L1460.4 612.1L1461.5 609.7L1462.6 607.3L1463.8 604.9L1464.9 602.6L1466.0 600.2L1467.1 597.8L1468.2 595.4L1469.3 593.0L1470.4 590.7L1471.5 588.3L1472.6 585.9L1473.7 583.5L1474.8 581.1L1475.9 578.7L1477.0 576.4L1478.2 574.0L1479.3 571.6L1480.4 569.2L1481.5 566.8L1482.6 564.5L1483.7 562.1L1484.8 559.7L1485.9 557.3L1487.0 554.9L1488.1 552.5L1489.2 550.1L1490.3 547.8L1491.4 545.4L1492.5 543.0L1493.5 540.6L1494.6 538.2L1495.7 535.8L1496.8 533.4L1497.9 531.1L1499.0 528.7L1500.1 526.3L1501.2 523.9L1502.3 521.5L1503.4 519.1L1504.5 516.7L1505.6 514.4L1506.7 512.0L1507.8 509.6L1508.9 507.2L1510.0 504.8L1511.1 502.4L1512.2 500.0L1513.3 497.7L1514.4 495.3L1515.5 492.9L1516.6 490.5L1517.7 488.1L1518.8 485.7L1519.9 483.3L1521.0 481.0L1522.1 478.6L1523.2 476.2L1524.3 473.8L1525.4 471.4L1526.5 469.0L1527.6 466.6L1528.7 464.3L1529.8 461.9L1530.9 459.5L1532.0 457.1L1533.1 454.7L1534.2 452.3L1535.3 450.0L1536.4 447.6L1537.5 445.2L1538.6 442.8L1539.7 440.4L1540.8 438.1L1541.9 435.7L1543.0 433.3L1544.1 430.9L1545.3 428.5L1546.4 426.2L1547.5 423.8L1548.6 421.4L1549.7 419.0L1550.8 416.6L1551.9 414.3L1553.1 411.9L1554.2 409.5L1555.3 407.1L1556.4 404.8L1557.6 402.4L1558.7 400.0L1559.8 397.6L1560.9 395.3L1562.1 392.9L1563.2 390.5L1564.3 388.2L1565.4 385.8L1566.6 383.4L1567.7 381.0L1568.8 378.7L1570.0 376.3L1571.1 373.9L1572.3 371.6L1573.4 369.2L1574.5 366.8L1575.7 364.5L1576.8 362.1L1578.0 359.8L1579.1 357.4L1580.3 355.0L1581.4 352.7L1582.6 350.3L1583.7 347.9L1584.9 345.6L1586.1 343.2L1587.2 340.9L1588.4 338.5L1589.5 336.2L1590.7 333.8L1591.9 331.5L1593.1 329.1L1594.2 326.8L1595.4 324.4L1596.6 322.1L1597.8 319.7L1598.9 317.4L1600.1 315.0L1601.3 312.7L1602.5 310.3L1603.7 308.0L1604.9 305.6L1606.1 303.3L1607.3 301.0L1608.5 298.6L1609.7 296.3L1610.9 294.0L1612.1 291.6L1613.4 289.3L1614.6 287.0L1615.8 284.6L1617.0 282.3L1618.3 280.0L1619.5 277.7L1620.7 275.3L1622.0 273.0L1623.2 270.7L1624.5 268.4L1625.7 266.1L1627.0 263.8L1628.2 261.4L1629.5 259.1L1630.8 256.8L1632.0 254.5L1633.3 252.2L1634.6 249.9L1635.9 247.6L1637.1 245.3L1638.4 243.0L1639.7 240.7L1641.0 238.4L1642.3 236.2L1643.7 233.9L1645.0 231.6L1646.3 229.3L1647.6 227.0L1649.0 224.8L1650.3 222.5L1651.7 220.3L1653.0 218.0L1654.4 215.8L1655.8 213.5L1657.2 211.3L1658.6 209.1L1660.0 206.9L1661.4 204.6L1662.8 202.4L1664.3 200.2L1665.7 198.1L1667.2 195.9L1668.7 193.7L1670.1 191.5L1671.6 189.4L1673.2 187.3L1674.7 185.1L1676.2 183.0L1677.8 180.9L1679.3 178.8L1680.9 176.7L1682.5 174.6L1684.1 172.5L1685.7 170.5L1687.4 168.4L1689.0 166.4L1690.7 164.4L1692.4 162.4L1694.1 160.4L1695.8 158.4L1697.6 156.4L1699.3 154.5L1701.1 152.6L1702.9 150.6L1704.7 148.7L1706.6 146.8L1708.4 145.0L1710.3 143.1L1712.2 141.3L1714.1 139.4L1716.0 137.6L1717.9 135.8L1719.9 134.1L1721.9 132.3L1723.9 130.6L1725.9 128.9L1727.9 127.2L1729.9 125.5L1732.0 123.8L1734.0 122.2L1736.1 120.6L1738.2 119.0L1740.3 117.4L1742.5 115.9L1744.6 114.3L1746.8 112.8L1748.9 111.4L1751.1 109.9L1753.3 108.5L1755.5 107.1L1757.8 105.7L1760.0 104.3L1762.3 103.0L1764.5 101.7L1766.8 100.4L1769.1 99.1L1771.4 97.9L1773.7 96.7L1776.1 95.5L1778.4 94.4L1780.7 93.3L1783.1 92.2L1785.5 91.1L1787.9 90.1L1790.3 89.1L1792.7 88.2L1795.1 87.2L1797.6 86.3L1800.0 85.4L1802.5 84.6L1804.9 83.8L1807.4 83.0L1809.9 82.2L1812.4 81.5L1814.9 80.8L1817.4 80.1L1819.9 79.4L1822.4 78.8L1825.0 78.2L1827.5 77.6L1830.1 77.1L1832.6 76.5L1835.2 76.0L1837.8 75.5L1840.4 75.1L1842.9 74.6L1845.5 74.2L1848.1 73.8L1850.7 73.4L1853.4 73.0L1856.0 72.7L1858.6 72.4L1861.2 72.1L1863.9 71.8L1866.5 71.5L1869.1 71.2L1871.8 71.0L1874.4 70.8L1877.1 70.6L1879.7 70.4L1882.4 70.2L1885.1 70.0L1887.7 69.9L1890.4 69.7L1893.1 69.6L1895.8 69.5L1898.4 69.4L1901.1 69.3L1903.8 69.2L1906.5 69.1L1909.2 69.0L1911.8 69.0L1914.5 68.9L1917.2 68.9L1919.9 68.9L1922.6 68.8L1925.3 68.8L1927.9 68.8L1930.6 68.8L1933.3 68.8L1936.0 68.8L1938.7 68.8L1941.3 68.8L1944.0 68.8L1946.7 68.9L1949.4 68.9L1952.0 68.9L1954.7 68.9L1957.3 68.9L1960.0 69.0L1962.7 69.0L1965.3 69.0L1968.0 69.0L1970.6 69.0L1973.2 69.1L1975.9 69.1L1978.5 69.1L1981.1 69.1L1983.8 69.1L1986.4 69.1L1989.0 69.1L1991.6 69.1L1994.2 69.1L1996.8 69.1L1999.4 69.0L2001.9 69.0L2004.5 68.9L2007.1 68.9L2009.6 68.8L2012.2 68.8L2014.7 68.7L2017.3 68.6L2019.8 68.5L2022.3 68.4L2024.8 68.3L2027.3 68.1L2029.8 68.0L2032.3 67.8L2034.7 67.6" fill="none" stroke="#000" stroke-width="7" stroke-linecap="round" stroke-dasharray="0.01 12.664" stroke-dashoffset="0.34"/>
<path d="M327.1 1412.4L329.7 1412.3L332.3 1412.3L334.9 1412.2L337.5 1412.2L340.1 1412.1L342.7 1412.1L345.3 1412.1L347.9 1412.0L350.5 1412.0L353.1 1411.9L355.8 1411.9L358.4 1411.9L361.0 1411.9L363.6 1411.8L366.2 1411.8L368.8 1411.8L371.4 1411.8L374.0 1411.7L376.7 1411.7L379.3 1411.7L381.9 1411.7L384.5 1411.7L387.1 1411.6L389.8 1411.6L392.4 1411.6L395.0 1411.6L397.6 1411.6L400.3 1411.6L402.9 1411.5L405.5 1411.5L408.1 1411.5L410.8 1411.5L413.4 1411.5L416.0 1411.5L418.6 1411.4L421.3 1411.4L423.9 1411.4L426.5 1411.4L429.1 1411.4L431.8 1411.3L434.4 1411.3L437.0 1411.3L439.7 1411.3L442.3 1411.2L444.9 1411.2L447.5 1411.2L450.2 1411.2L452.8 1411.1L455.4 1411.1L458.1 1411.0L460.7 1411.0L463.3 1411.0L466.0 1410.9L468.6 1410.9L471.2 1410.8L473.8 1410.8L476.5 1410.7L479.1 1410.7L481.7 1410.6L484.4 1410.5L487.0 1410.5L489.6 1410.4L492.3 1410.3L494.9 1410.2L497.5 1410.2L500.1 1410.1L502.8 1410.0L505.4 1409.9L508.0 1409.8L510.7 1409.7L513.3 1409.6L515.9 1409.5L518.5 1409.4L521.2 1409.3L523.8 1409.1L526.4 1409.0L529.0 1408.9L531.7 1408.7L534.3 1408.6L536.9 1408.5L539.5 1408.3L542.1 1408.2L544.8 1408.0L547.4 1407.8L550.0 1407.6L552.6 1407.5L555.2 1407.3L557.8 1407.1L560.5 1406.9L563.1 1406.7L565.7 1406.5L568.3 1406.3L570.9 1406.0L573.5 1405.8L576.1 1405.6L578.7 1405.3L581.4 1405.1L584.0 1404.8L586.6 1404.6L589.2 1404.3L591.8 1404.0L594.4 1403.7L597.0 1403.4L599.6 1403.1L602.2 1402.8L604.8 1402.5L607.4 1402.2L610.0 1401.9L612.6 1401.5L615.2 1401.2L617.7 1400.8L620.3 1400.4L622.9 1400.1L625.5 1399.7L628.1 1399.3L630.7 1398.9L633.3 1398.5L635.8 1398.1L638.4 1397.7L641.0 1397.2L643.6 1396.8L646.2 1396.3L648.7 1395.9L651.3 1395.4L653.9 1394.9L656.4 1394.4L659.0 1393.9L661.6 1393.4L664.1 1392.9L666.7 1392.4L669.3 1391.8L671.8 1391.3L674.4 1390.8L676.9 1390.2L679.5 1389.6L682.1 1389.1L684.6 1388.5L687.2 1387.9L689.7 1387.3L692.3 1386.7L694.8 1386.1L697.3 1385.5L699.9 1384.9L702.4 1384.2L705.0 1383.6L707.5 1382.9L710.0 1382.3L712.6 1381.6L715.1 1380.9L717.6 1380.3L720.2 1379.6L722.7 1378.9L725.2 1378.2L727.7 1377.5L730.3 1376.8L732.8 1376.1L735.3 1375.3L737.8 1374.6L740.3 1373.9L742.9 1373.1L745.4 1372.4L747.9 1371.6L750.4 1370.9L752.9 1370.1L755.4 1369.3L757.9 1368.5L760.4 1367.8L762.9 1367.0L765.4 1366.2L767.9 1365.4L770.4 1364.6L772.9 1363.8L775.4 1362.9L777.9 1362.1L780.4 1361.3L782.9 1360.4L785.4 1359.6L787.9 1358.8L790.3 1357.9L792.8 1357.1L795.3 1356.2L797.8 1355.3L800.3 1354.5L802.7 1353.6L805.2 1352.7L807.7 1351.8L810.2 1350.9L812.6 1350.0L815.1 1349.1L817.6 1348.2L820.0 1347.3L822.5 1346.4L824.9 1345.5L827.4 1344.6L829.9 1343.7L832.3 1342.8L834.8 1341.8L837.2 1340.9L839.7 1339.9L842.1 1339.0L844.6 1338.1L847.0 1337.1L849.4 1336.1L851.9 1335.2L854.3 1334.2L856.8 1333.2L859.2 1332.3L861.6 1331.3L864.1 1330.3L866.5 1329.3L868.9 1328.3L871.3 1327.3L873.8 1326.3L876.2 1325.3L878.6 1324.3L881.0 1323.3L883.4 1322.3L885.9 1321.3L888.3 1320.2L890.7 1319.2L893.1 1318.2L895.5 1317.1L897.9 1316.1L900.3 1315.0L902.7 1314.0L905.1 1312.9L907.5 1311.9L909.9 1310.8L912.3 1309.7L914.7 1308.6L917.1 1307.6L919.5 1306.5L921.8 1305.4L924.2 1304.3L926.6 1303.2L929.0 1302.1L931.4 1301.0L933.7 1299.9L936.1 1298.8L938.5 1297.6L940.8 1296.5L943.2 1295.4L945.6 1294.3L947.9 1293.1L950.3 1292.0L952.7 1290.8L955.0 1289.7L957.4 1288.5L959.7 1287.4L962.1 1286.2L964.4 1285.1L966.8 1283.9L969.1 1282.7L971.4 1281.5L973.8 1280.3L976.1 1279.2L978.4 1278.0L980.8 1276.8L983.1 1275.6L985.4 1274.4L987.8 1273.2L990.1 1271.9L992.4 1270.7L994.7 1269.5L997.0 1268.3L999.3 1267.0L1001.7 1265.8L1004.0 1264.6L1006.3 1263.3L1008.6 1262.1L1010.9 1260.8L1013.2 1259.6L1015.5 1258.3L1017.8 1257.0L1020.1 1255.8L1022.4 1254.5L1024.6 1253.2L1026.9 1251.9L1029.2 1250.6L1031.5 1249.4L1033.8 1248.1L1036.0 1246.8L1038.3 1245.5L1040.6 1244.1L1042.9 1242.8L1045.1 1241.5L1047.4 1240.2L1049.7 1238.9L1051.9 1237.5L1054.2 1236.2L1056.4 1234.9L1058.7 1233.5L1060.9 1232.2L1063.2 1230.8L1065.4 1229.5L1067.7 1228.1L1069.9 1226.7L1072.1 1225.4L1074.4 1224.0L1076.6 1222.6L1078.8 1221.2L1081.1 1219.9L1083.3 1218.5L1085.5 1217.1L1087.7 1215.7L1089.9 1214.3L1092.2 1212.9L1094.4 1211.4L1096.6 1210.0L1098.8 1208.6L1101.0 1207.2L1103.2 1205.7L1105.4 1204.3L1107.6 1202.9L1109.8 1201.4L1111.9 1200.0L1114.1 1198.5L1116.3 1197.1L1118.5 1195.6L1120.7 1194.1L1122.8 1192.7L1125.0 1191.2L1127.2 1189.7L1129.3 1188.2L1131.5 1186.7L1133.6 1185.2L1135.8 1183.7L1137.9 1182.2L1140.1 1180.7L1142.2 1179.2L1144.3 1177.7L1146.5 1176.1L1148.6 1174.6L1150.7 1173.1L1152.8 1171.5L1155.0 1170.0L1157.1 1168.4L1159.2 1166.9L1161.3 1165.3L1163.4 1163.7L1165.5 1162.2L1167.6 1160.6L1169.6 1159.0L1171.7 1157.4L1173.8 1155.8L1175.9 1154.2L1177.9 1152.6L1180.0 1151.0L1182.1 1149.4L1184.1 1147.7L1186.2 1146.1L1188.2 1144.5L1190.3 1142.8L1192.3 1141.2L1194.3 1139.5L1196.3 1137.9L1198.4 1136.2L1200.4 1134.5L1202.4 1132.9L1204.4 1131.2L1206.4 1129.5L1208.4 1127.8L1210.4 1126.1L1212.4 1124.4L1214.4 1122.7L1216.3 1121.0L1218.3 1119.2L1220.3 1117.5L1222.2 1115.8L1224.2 1114.0L1226.1 1112.3L1228.1 1110.5L1230.0 1108.8L1231.9 1107.0L1233.9 1105.2L1235.8 1103.4L1237.7 1101.7L1239.6 1099.9L1241.5 1098.1L1243.4 1096.3L1245.3 1094.4L1247.2 1092.6L1249.1 1090.8L1250.9 1089.0L1252.8 1087.1L1254.7 1085.3L1256.5 1083.4L1258.4 1081.6L1260.2 1079.7L1262.0 1077.8L1263.9 1076.0L1265.7 1074.1L1267.5 1072.2L1269.3 1070.3L1271.1 1068.4L1272.9 1066.5L1274.7 1064.5L1276.5 1062.6L1278.3 1060.7L1280.0 1058.7L1281.8 1056.8L1283.6 1054.8L1285.3 1052.9L1287.1 1050.9L1288.8 1049.0L1290.5 1047.0L1292.3 1045.0L1294.0 1043.0L1295.7 1041.0L1297.4 1039.0L1299.1 1037.0L1300.8 1035.0L1302.5 1033.0L1304.2 1031.0L1305.9 1029.0L1307.6 1026.9L1309.2 1024.9L1310.9 1022.9L1312.6 1020.8L1314.2 1018.8L1315.9 1016.7L1317.5 1014.7L1319.2 1012.6L1320.8 1010.6L1322.4 1008.5L1324.1 1006.4L1325.7 1004.4L1327.3 1002.3L1328.9 1000.2L1330.5 998.1L1332.1 996.0L1333.7 993.9L1335.3 991.8L1336.9 989.7L1338.5 987.6L1340.1 985.5L1341.7 983.4L1343.2 981.3L1344.8 979.2L1346.4 977.1L1347.9 975.0L1349.5 972.9L1351.1 970.8L1352.6 968.6L1354.2 966.5L1355.7 964.4L1357.2 962.2L1358.8 960.1L1360.3 958.0L1361.8 955.8L1363.4 953.7L1364.9 951.6L1366.4 949.4L1367.9 947.3L1369.4 945.1L1370.9 943.0L1372.4 940.8L1373.9 938.7L1375.4 936.5L1376.9 934.4L1378.4 932.2L1379.9 930.0L1381.4 927.9L1382.8 925.7L1384.3 923.5L1385.8 921.4L1387.2 919.2L1388.7 917.0L1390.2 914.8L1391.6 912.7L1393.1 910.5L1394.5 908.3L1396.0 906.1L1397.4 903.9L1398.8 901.7L1400.3 899.5L1401.7 897.3L1403.1 895.1L1404.5 892.9L1406.0 890.7L1407.4 888.5L1408.8 886.3L1410.2 884.1L1411.6 881.9L1413.0 879.7L1414.4 877.5L1415.8 875.3L1417.2 873.1L1418.6 870.9L1420.0 868.6L1421.4 866.4L1422.8 864.2L1424.1 862.0L1425.5 859.7L1426.9 857.5L1428.2 855.3L1429.6 853.0L1431.0 850.8L1432.3 848.6L1433.7 846.3L1435.0 844.1L1436.4 841.8L1437.7 839.6L1439.1 837.4L1440.4 835.1L1441.8 832.9L1443.1 830.6L1444.4 828.4L1445.8 826.1L1447.1 823.9L1448.4 821.6L1449.7 819.3L1451.0 817.1L1452.4 814.8L1453.7 812.5L1455.0 810.3L1456.3 808.0L1457.6 805.7L1458.9 803.5L1460.2 801.2L1461.5 798.9L1462.8 796.7L1464.1 794.4L1465.4 792.1L1466.7 789.8L1467.9 787.5L1469.2 785.3L1470.5 783.0L1471.8 780.7L1473.0 778.4L1474.3 776.1L1475.6 773.8L1476.8 771.5L1478.1 769.2L1479.4 766.9L1480.6 764.6L1481.9 762.3L1483.1 760.0L1484.4 757.7L1485.6 755.4L1486.9 753.1L1488.1 750.8L1489.4 748.5L1490.6 746.2L1491.8 743.9L1493.1 741.6L1494.3 739.3L1495.5 737.0L1496.8 734.7L1498.0 732.3L1499.2 730.0L1500.4 727.7L1501.6 725.4L1502.9 723.1L1504.1 720.7L1505.3 718.4L1506.5 716.1L1507.7 713.8L1508.9 711.4L1510.1 709.1L1511.3 706.8L1512.5 704.4L1513.7 702.1L1514.9 699.8L1516.1 697.5L1517.3 695.1L1518.5 692.8L1519.7 690.4L1520.8 688.1L1522.0 685.8L1523.2 683.4L1524.4 681.1L1525.6 678.7L1526.7 676.4L1527.9 674.0L1529.1 671.7L1530.3 669.4L1531.4 667.0L1532.6 664.7L1533.8 662.3L1534.9 660.0L1536.1 657.6L1537.2 655.2L1538.4 652.9L1539.5 650.5L1540.7 648.2L1541.9 645.8L1543.0 643.5L1544.2 641.1L1545.3 638.7L1546.4 636.4L1547.6 634.0L1548.7 631.7L1549.9 629.3L1551.0 626.9L1552.2 624.6L1553.3 622.2L1554.4 619.8L1555.6 617.5L1556.7 615.1L1557.8 612.7L1559.0 610.4L1560.1 608.0L1561.2 605.6L1562.3 603.2L1563.5 600.9L1564.6 598.5L1565.7 596.1L1566.8 593.7L1567.9 591.4L1569.1 589.0L1570.2 586.6L1571.3 584.2L1572.4 581.9L1573.5 579.5L1574.6 577.1L1575.7 574.7L1576.9 572.3L1578.0 570.0L1579.1 567.6L1580.2 565.2L1581.3 562.8L1582.4 560.4L1583.5 558.0L1584.6 555.7L1585.7 553.3L1586.8 550.9L1587.9 548.5L1589.0 546.1L1590.1 543.7L1591.2 541.3L1592.3 538.9L1593.4 536.5L1594.5 534.2L1595.6 531.8L1596.6 529.4L1597.7 527.0L1598.8 524.6L1599.9 522.2L1601.0 519.8L1602.1 517.4L1603.2 515.0L1604.3 512.6L1605.3 510.2L1606.4 507.8L1607.5 505.4L1608.6 503.0L1609.7 500.7L1610.8 498.3L1611.8 495.9L1612.9 493.5L1614.0 491.1L1615.1 488.7L1616.2 486.3L1617.2 483.9L1618.3 481.5L1619.4 479.1L1620.5 476.7L1621.5 474.3L1622.6 471.9L1623.7 469.5L1624.8 467.1L1625.8 464.7L1626.9 462.3L1628.0 459.9L1629.1 457.5L1630.1 455.1L1631.2 452.7L1632.3 450.3L1633.3 447.9L1634.4 445.5L1635.5 443.1L1636.5 440.7L1637.6 438.3L1638.7 435.9L1639.8 433.5L1640.8 431.1L1641.9 428.7L1643.0 426.3L1644.0 423.9L1645.1 421.5L1646.2 419.1L1647.3 416.7L1648.3 414.3L1649.4 411.9L1650.5 409.5L1651.6 407.1L1652.7 404.7L1653.7 402.3L1654.8 399.9L1655.9 397.5L1657.0 395.1L1658.1 392.7L1659.2 390.4L1660.3 388.0L1661.4 385.6L1662.4 383.2L1663.5 380.8L1664.6 378.4L1665.7 376.0L1666.9 373.7L1668.0 371.3L1669.1 368.9L1670.2 366.5L1671.3 364.2L1672.4 361.8L1673.5 359.4L1674.7 357.0L1675.8 354.7L1676.9 352.3L1678.0 350.0L1679.2 347.6L1680.3 345.2L1681.5 342.9L1682.6 340.5L1683.8 338.2L1684.9 335.8L1686.1 333.5L1687.2 331.1L1688.4 328.8L1689.6 326.4L1690.7 324.1L1691.9 321.8L1693.1 319.4L1694.3 317.1L1695.5 314.8L1696.7 312.5L1697.9 310.1L1699.1 307.8L1700.3 305.5L1701.5 303.2L1702.7 300.9L1704.0 298.6L1705.2 296.3L1706.4 294.0L1707.7 291.7L1708.9 289.4L1710.2 287.1L1711.4 284.8L1712.7 282.5L1714.0 280.2L1715.3 277.9L1716.5 275.7L1717.8 273.4L1719.1 271.1L1720.4 268.8L1721.7 266.6L1723.1 264.3L1724.4 262.1L1725.7 259.8L1727.0 257.6L1728.4 255.3L1729.7 253.1L1731.1 250.9L1732.4 248.6L1733.8 246.4L1735.2 244.2L1736.6 242.0L1738.0 239.8L1739.4 237.6L1740.8 235.4L1742.2 233.2L1743.6 231.0L1745.0 228.8L1746.5 226.6L1747.9 224.4L1749.4 222.2L1750.9 220.1L1752.3 217.9L1753.8 215.7L1755.3 213.6L1756.8 211.4L1758.3 209.3L1759.8 207.1L1761.3 205.0L1762.9 202.9L1764.4 200.7L1766.0 198.6L1767.5 196.5L1769.1 194.4L1770.7 192.3L1772.3 190.2L1773.8 188.1L1775.5 186.0L1777.1 183.9L1778.7 181.8L1780.3 179.8L1782.0 177.7L1783.6 175.6L1785.3 173.6L1787.0 171.5L1788.7 169.5L1790.4 167.5L1792.1 165.4L1793.8 163.4L1795.5 161.4L1797.3 159.4L1799.0 157.4L1800.8 155.4L1802.6 153.5L1804.3 151.5L1806.1 149.6L1807.9 147.6L1809.8 145.7L1811.6 143.8L1813.4 141.9L1815.3 140.1L1817.2 138.2L1819.1 136.4L1820.9 134.5L1822.9 132.7L1824.8 130.9L1826.7 129.1L1828.7 127.4L1830.6 125.6L1832.6 123.9L1834.6 122.2L1836.6 120.5L1838.6 118.9L1840.6 117.2L1842.6 115.6L1844.7 114.0L1846.8 112.5L1848.8 110.9L1850.9 109.4L1853.0 107.9L1855.2 106.4L1857.3 105.0L1859.5 103.5L1861.6 102.1L1863.8 100.8L1866.0 99.4L1868.2 98.1L1870.5 96.8L1872.7 95.6L1875.0 94.3L1877.2 93.1L1879.5 92.0L1881.8 90.8L1884.1 89.7L1886.5 88.6L1888.8 87.6L1891.2 86.6L1893.6 85.6L1896.0 84.7L1898.4 83.8L1900.9 82.9L1903.3 82.1L1905.8 81.3L1908.3 80.5L1910.8 79.8L1913.3 79.1L1915.8 78.4L1918.4 77.8L1921.0 77.2L1923.5 76.7L1926.1 76.2L1928.8 75.7L1931.4 75.3L1934.0 74.8L1936.7 74.5L1939.3 74.1L1942.0 73.8L1944.7 73.5L1947.4 73.2L1950.1 72.9L1952.8 72.7L1955.5 72.5L1958.2 72.3L1960.9 72.1L1963.6 71.9L1966.3 71.8L1969.0 71.6L1971.7 71.5L1974.4 71.4L1977.1 71.3L1979.9 71.2L1982.6 71.2L1985.3 71.1L1988.0 71.0L1990.6 71.0L1993.3 70.9L1996.0 70.9L1998.7 70.8L2001.3 70.8L2004.0 70.7L2006.6 70.7L2009.2 70.6L2011.8 70.5L2014.4 70.5L2017.0 70.4L2019.6 70.3L2022.1 70.2L2024.6 70.1L2027.1 70.0L2029.6 69.9L2032.1 69.7L2034.6 69.6L2037.0 69.4" fill="none" stroke="#000" stroke-width="7" stroke-linejoin="round" stroke-linecap="round" stroke-dasharray="45.0 25.146 0.01 25.136 0.01 25.136" stroke-dashoffset="1.67"/>
<g stroke="#000" stroke-width="6" fill="none" stroke-linecap="butt">
<path d="M308 67.5 H2056" stroke-width="7"/>
<path d="M308 1415.0 H2056"/>
<path d="M327.0 64 V1434"/>
<path d="M2053.0 64 V1434"/>
<path d="M312 1280.0 H327.0"/>
<path d="M308 1146.0 H327.0"/>
<path d="M312 1011.0 H327.0"/>
<path d="M308 876.0 H327.0"/>
<path d="M312 741.0 H327.0"/>
<path d="M308 606.0 H327.0"/>
<path d="M312 472.0 H327.0"/>
<path d="M308 338.0 H327.0"/>
<path d="M312 202.0 H327.0"/>
<path d="M456.9 1415.0 V1429"/>
<path d="M532.9 1415.0 V1429"/>
<path d="M586.8 1415.0 V1429"/>
<path d="M628.6 1415.0 V1429"/>
<path d="M662.8 1415.0 V1429"/>
<path d="M691.7 1415.0 V1429"/>
<path d="M716.7 1415.0 V1429"/>
<path d="M738.8 1415.0 V1429"/>
<path d="M758.5 1415.0 V1434"/>
<path d="M888.4 1415.0 V1429"/>
<path d="M964.4 1415.0 V1429"/>
<path d="M1018.3 1415.0 V1429"/>
<path d="M1060.1 1415.0 V1429"/>
<path d="M1094.3 1415.0 V1429"/>
<path d="M1123.2 1415.0 V1429"/>
<path d="M1148.2 1415.0 V1429"/>
<path d="M1170.3 1415.0 V1429"/>
<path d="M1190.0 1415.0 V1434"/>
<path d="M1319.9 1415.0 V1429"/>
<path d="M1395.9 1415.0 V1429"/>
<path d="M1449.8 1415.0 V1429"/>
<path d="M1491.6 1415.0 V1429"/>
<path d="M1525.8 1415.0 V1429"/>
<path d="M1554.7 1415.0 V1429"/>
<path d="M1579.7 1415.0 V1429"/>
<path d="M1601.8 1415.0 V1429"/>
<path d="M1621.5 1415.0 V1434"/>
<path d="M1751.4 1415.0 V1429"/>
<path d="M1827.4 1415.0 V1429"/>
<path d="M1881.3 1415.0 V1429"/>
<path d="M1923.1 1415.0 V1429"/>
<path d="M1957.3 1415.0 V1429"/>
<path d="M1986.2 1415.0 V1429"/>
<path d="M2011.2 1415.0 V1429"/>
<path d="M2033.3 1415.0 V1429"/>
</g>
<g style="font-family:'Liberation Sans',Arial,Helvetica,sans-serif" font-size="64" fill="#000">
<text x="239.3" y="1435.5">0</text>
<text x="188.2 222.6 238.0" y="1166.0">0.2</text>
<text x="188.3 222.6 239.0" y="896.5">0.4</text>
<text x="188.3 222.6 239.2" y="627.0">0.6</text>
<text x="188.3 222.6 239.4" y="357.5">0.8</text>
<text x="241.4" y="88.0">1</text>
<text x="311.2" y="1508.0">1</text>
<text x="726.0 758.2" y="1508.0">10</text>
<text x="1140.3 1172.0 1207.2" y="1508.0">100</text>
<text x="1554.2 1587.5 1621.4 1655.3" y="1508.0">1000</text>
<text x="1969.0 2001.4 2035.5 2070.0 2104.1" y="1508.0">10000</text>
<text transform="translate(1204 1591) scale(0.96 1)" x="0" y="0" text-anchor="middle">Time [days]</text>
<text transform="translate(101 714) rotate(-90) scale(0.962 1)" x="0" y="0" text-anchor="middle">Average Degree of Consolidation [ ]</text>
</g>
<g style="font-family:'Liberation Sans',Arial,Helvetica,sans-serif" font-size="50" fill="#000">
<text x="527" y="144.6">[k]<tspan font-size="36" dy="12">A</tspan><tspan dy="-12">/[k]</tspan><tspan font-size="36" dy="12">B</tspan><tspan dy="-12">=1.0 (Homogeneous)</tspan></text>
<text x="527" y="242.0">[k]<tspan font-size="36" dy="12">A</tspan><tspan dy="-12">/[k]</tspan><tspan font-size="36" dy="12">B</tspan><tspan dy="-12">=0.5</tspan></text>
<text x="527" y="329.6">[k]<tspan font-size="36" dy="12">A</tspan><tspan dy="-12">/[k]</tspan><tspan font-size="36" dy="12">B</tspan><tspan dy="-12">=0.2</tspan></text>
<text x="527" y="425.7">[k]<tspan font-size="36" dy="12">A</tspan><tspan dy="-12">/[k]</tspan><tspan font-size="36" dy="12">B</tspan><tspan dy="-12">=0.1</tspan></text>
</g>
<g stroke="#000" stroke-width="7" fill="none">
<path d="M431.5 134.2 H486" stroke-linecap="round"/>
<path d="M431.5 229.4 H450 M475.5 229.4 H495.5" stroke-linecap="round"/>
<path d="M431.5 325.0 h0.01 M444.1 325.0 h0.01 M456.7 325.0 h0.01 M469.3 325.0 h0.01 M481.9 325.0 h0.01 M494.5 325.0 h0.01 M507.1 325.0 h0.01" stroke-linecap="round"/>
<path d="M431.5 421.3 H476.5 M501.5 421.3 h0.01" stroke-linecap="round"/>
</g>
</svg>
</body></html>
